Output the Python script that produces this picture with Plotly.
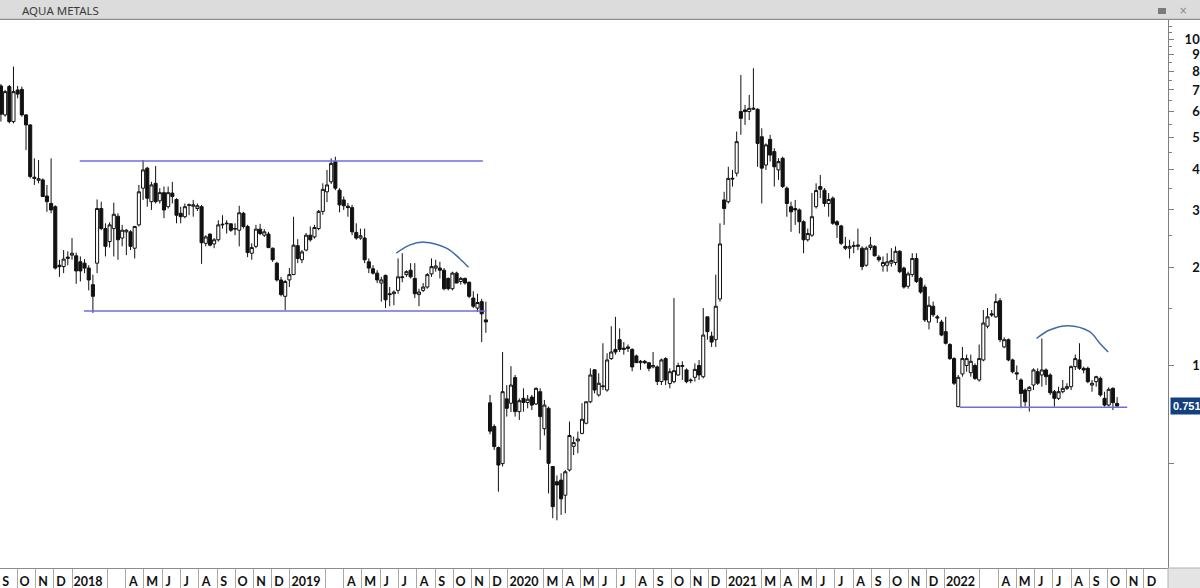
import math
import pandas as pd
import plotly.graph_objects as go

TITLE = "AQUA METALS"

# weekly bars
WEEKS = pd.date_range("2017-09-04", periods=268, freq="7D")

OPEN = [
    7.2, 5.87, 7.17, 5.60, 7.0, 7.03, 5.87, 5.47, 3.78, 3.70,
    3.71, 3.31, 3.14, 3.07, 2.03, 2.01, 2.13, 2.18, 2.17, 2.08,
    2.06, 1.99, 1.77, 2.06, 3.03, 2.63, 2.40, 2.63, 2.87, 2.46,
    2.57, 2.57, 2.29, 2.70, 3.50, 4.03, 3.18, 3.62, 3.20, 3.39,
    3.07, 3.38, 3.23, 2.93, 2.86, 3.10, 3.08, 3.03, 3.07, 2.37,
    2.53, 2.36, 2.43, 2.70, 2.72, 2.72, 2.62, 2.60, 2.93, 2.67,
    2.21, 2.32, 2.62, 2.51, 2.53, 2.29, 2.06, 1.83, 1.63, 1.83,
    1.90, 2.33, 2.11, 2.26, 2.51, 2.48, 2.63, 2.97, 3.41, 3.66,
    4.22, 3.45, 3.22, 3.08, 3.05, 2.56, 2.46, 2.46, 2.08, 1.98,
    1.92, 1.79, 1.89, 1.66, 1.66, 1.70, 1.86, 1.90, 1.96, 1.85,
    1.65, 1.70, 1.74, 1.91, 1.99, 1.99, 1.96, 1.85, 1.72, 1.92,
    1.81, 1.85, 1.80, 1.61, 1.50, 1.57, 1.38, 0.768, 0.65, 0.56,
    0.50, 0.79, 0.766, 0.918, 0.722, 0.793, 0.77, 0.80, 0.762, 0.831,
    0.64, 0.739, 0.49, 0.44, 0.445, 0.40, 0.478, 0.565, 0.587, 0.619,
    0.665, 0.774, 0.97, 0.812, 0.861, 0.841, 1.05, 1.12, 1.20, 1.12,
    1.14, 1.12, 1.07, 1.02, 1.03, 1.02, 0.99, 0.99, 0.893, 1.05,
    0.88, 0.892, 0.935, 1.00, 0.969, 0.903, 0.92, 1.00, 0.924, 1.41,
    1.23, 1.20, 1.60, 3.22, 3.18, 3.73, 3.89, 6.01, 6.08, 6.01,
    6.11, 6.11, 5.03, 4.12, 4.94, 4.53, 3.98, 4.32, 3.50, 3.07,
    3.03, 3.00, 2.76, 2.43, 2.51, 3.07, 3.54, 3.45, 3.14, 3.26,
    2.76, 2.68, 2.32, 2.29, 2.32, 2.32, 2.29, 2.03, 2.30, 2.32,
    2.15, 2.02, 2.03, 2.06, 2.07, 2.24, 1.99, 1.75, 1.90, 2.13,
    1.85, 1.74, 1.36, 1.52, 1.41, 1.36, 1.27, 1.16, 1.05, 0.748,
    0.942, 1.00, 0.95, 1.00, 0.903, 1.04, 1.32, 1.44, 1.41, 1.58,
    1.14, 1.20, 1.04, 0.95, 0.903, 0.841, 0.837, 0.871, 0.957, 0.935,
    0.969, 0.935, 0.831, 0.793, 0.831, 0.851, 0.861, 0.992, 1.04, 0.98,
    0.98, 0.871, 0.892, 0.913, 0.793, 0.756, 0.851, 0.765,
]
HIGH = [
    7.3, 7.0, 7.25, 8.26, 7.2, 7.17, 5.9, 5.5, 4.32, 4.27,
    3.75, 3.58, 4.32, 3.1, 2.11, 2.26, 2.24, 2.46, 2.22, 2.16,
    2.12, 2.03, 1.90, 3.23, 3.18, 2.73, 2.75, 3.16, 2.93, 2.70,
    2.62, 2.60, 2.68, 3.58, 4.27, 4.07, 3.66, 4.09, 3.50, 3.54,
    3.54, 3.66, 3.26, 3.07, 3.14, 3.14, 3.22, 3.14, 3.11, 2.51,
    2.54, 2.46, 2.79, 2.89, 2.79, 2.73, 2.73, 3.09, 2.96, 2.70,
    2.37, 2.70, 2.72, 2.62, 2.57, 2.30, 2.08, 1.87, 1.83, 1.99,
    2.86, 2.44, 2.26, 2.55, 2.67, 2.70, 3.0, 3.62, 3.98, 4.32,
    4.37, 3.50, 3.3, 3.15, 3.11, 2.73, 2.63, 2.63, 2.13, 2.03,
    1.96, 1.87, 1.90, 1.74, 1.70, 2.13, 2.21, 1.96, 2.06, 2.06,
    1.72, 1.79, 1.92, 2.13, 2.11, 2.08, 1.99, 1.86, 1.94, 1.94,
    1.87, 1.86, 1.81, 1.69, 1.66, 1.60, 1.57, 0.812, 0.66, 0.564,
    1.10, 0.87, 0.995, 0.935, 0.793, 0.851, 0.812, 0.812, 0.856, 0.851,
    0.784, 0.748, 0.49, 0.46, 0.467, 0.478, 0.673, 0.605, 0.627, 0.766,
    0.774, 0.98, 0.975, 0.946, 1.17, 1.09, 1.32, 1.41, 1.30, 1.18,
    1.16, 1.13, 1.08, 1.04, 1.04, 1.02, 1.10, 1.00, 1.05, 1.06,
    0.98, 1.61, 1.02, 1.03, 0.98, 0.913, 1.015, 1.04, 1.50, 1.41,
    1.27, 1.90, 2.73, 3.41, 4.07, 3.98, 5.22, 7.78, 6.30, 6.76,
    8.16, 6.15, 5.34, 4.80, 5.10, 4.64, 4.32, 4.37, 3.54, 3.18,
    3.22, 3.03, 2.79, 2.63, 3.38, 3.62, 3.84, 3.50, 3.38, 3.30,
    2.79, 2.70, 2.48, 2.43, 2.40, 2.63, 2.32, 2.32, 2.48, 2.34,
    2.18, 2.16, 2.21, 2.29, 2.32, 2.26, 2.01, 1.94, 2.21, 2.21,
    1.87, 1.77, 1.63, 1.57, 1.43, 1.38, 1.41, 1.17, 1.06, 0.935,
    1.14, 1.08, 1.08, 1.015, 1.16, 1.48, 1.50, 1.48, 1.66, 1.61,
    1.22, 1.21, 1.05, 1.00, 0.913, 0.851, 0.865, 0.98, 0.98, 1.21,
    0.98, 0.946, 0.841, 0.861, 0.903, 0.882, 1.00, 1.08, 1.17, 0.992,
    0.992, 0.903, 0.93, 0.924, 0.831, 0.857, 0.857, 0.80,
]
LOW = [
    5.6, 5.8, 5.53, 5.53, 6.6, 5.8, 4.58, 3.75, 3.58, 3.62,
    3.3, 2.96, 2.93, 1.97, 1.87, 1.92, 2.03, 2.11, 1.78, 1.81,
    1.92, 1.70, 1.45, 1.92, 2.6, 2.16, 2.3, 2.16, 2.11, 2.32,
    2.18, 2.26, 2.13, 2.67, 3.22, 3.07, 3.0, 3.14, 3.14, 2.83,
    3.03, 3.14, 2.73, 2.73, 2.83, 2.89, 2.86, 2.98, 2.05, 2.32,
    2.32, 2.29, 2.40, 2.63, 2.54, 2.57, 2.51, 2.32, 2.63, 2.15,
    2.11, 2.29, 2.51, 2.48, 2.29, 2.08, 1.81, 1.63, 1.48, 1.74,
    1.90, 2.06, 2.06, 2.24, 2.40, 2.45, 2.60, 2.90, 3.17, 3.6,
    3.45, 2.95, 3.0, 2.86, 2.51, 2.43, 2.43, 2.06, 1.92, 1.90,
    1.79, 1.57, 1.50, 1.52, 1.53, 1.66, 1.80, 1.87, 1.85, 1.61,
    1.52, 1.68, 1.72, 1.87, 1.94, 1.85, 1.70, 1.70, 1.70, 1.79,
    1.77, 1.77, 1.61, 1.50, 1.46, 1.18, 1.26, 0.615, 0.551, 0.41,
    0.49, 0.697, 0.72, 0.697, 0.68, 0.722, 0.739, 0.73, 0.756, 0.551,
    0.61, 0.405, 0.34, 0.335, 0.348, 0.352, 0.473, 0.531, 0.538, 0.615,
    0.66, 0.766, 0.821, 0.802, 0.841, 0.831, 1.04, 1.08, 1.10, 1.08,
    1.10, 0.96, 1.02, 0.97, 1.01, 0.96, 0.98, 0.871, 0.871, 0.871,
    0.851, 0.882, 0.93, 0.903, 0.882, 0.882, 0.892, 0.903, 0.913, 1.20,
    1.14, 1.14, 1.57, 2.70, 3.14, 3.54, 3.80, 5.10, 5.47, 5.66,
    6.08, 4.07, 3.14, 3.98, 4.22, 3.54, 3.71, 3.50, 2.86, 2.57,
    2.70, 2.54, 2.21, 2.40, 2.48, 3.03, 3.26, 3.07, 2.86, 2.70,
    2.46, 2.34, 2.26, 2.13, 2.21, 2.26, 1.96, 2.01, 2.26, 2.16,
    2.08, 1.94, 1.94, 2.01, 2.03, 1.92, 1.72, 1.72, 1.87, 1.79,
    1.66, 1.36, 1.29, 1.41, 1.35, 1.23, 1.16, 1.04, 0.871, 0.744,
    0.924, 0.957, 0.924, 0.903, 0.892, 1.03, 1.30, 1.41, 1.40, 1.18,
    1.13, 1.03, 0.946, 0.903, 0.739, 0.748, 0.722, 0.841, 0.871, 0.861,
    0.871, 0.812, 0.748, 0.784, 0.821, 0.841, 0.841, 0.969, 0.969, 0.946,
    0.882, 0.831, 0.861, 0.802, 0.748, 0.748, 0.730, 0.748,
]
CLOSE = [
    5.9, 6.92, 5.60, 6.92, 6.8, 5.87, 5.47, 3.80, 3.75, 3.74,
    3.30, 3.18, 3.00, 1.99, 2.01, 2.12, 2.15, 2.21, 1.95, 1.95,
    1.99, 1.83, 1.63, 3.03, 2.63, 2.32, 2.70, 2.91, 2.43, 2.60,
    2.60, 2.32, 2.67, 3.41, 3.98, 3.26, 3.58, 3.18, 3.39, 3.00,
    3.39, 3.30, 2.89, 2.86, 3.07, 3.11, 3.11, 3.09, 2.38, 2.48,
    2.34, 2.43, 2.70, 2.71, 2.73, 2.60, 2.63, 2.94, 2.67, 2.22,
    2.30, 2.62, 2.54, 2.57, 2.30, 2.11, 1.83, 1.65, 1.81, 1.90,
    2.34, 2.13, 2.23, 2.51, 2.43, 2.65, 2.97, 3.47, 3.58, 4.17,
    3.50, 3.11, 3.09, 3.05, 2.57, 2.46, 2.50, 2.11, 1.99, 1.92,
    1.83, 1.83, 1.59, 1.65, 1.68, 1.87, 1.87, 1.94, 1.87, 1.66,
    1.68, 1.74, 1.90, 2.01, 2.02, 1.96, 1.72, 1.72, 1.92, 1.79,
    1.85, 1.79, 1.63, 1.52, 1.56, 1.44, 1.36, 0.629, 0.564, 0.495,
    0.831, 0.739, 0.871, 0.722, 0.78, 0.77, 0.788, 0.756, 0.851, 0.697,
    0.756, 0.501, 0.369, 0.43, 0.39, 0.472, 0.61, 0.58, 0.595, 0.684,
    0.774, 0.935, 0.841, 0.882, 0.865, 1.04, 1.10, 1.10, 1.12, 1.13,
    1.13, 0.99, 1.02, 1.03, 1.02, 0.98, 1.00, 0.893, 1.04, 0.903,
    0.957, 0.964, 1.00, 0.995, 0.892, 0.899, 0.973, 0.935, 1.24, 1.27,
    1.18, 1.52, 2.36, 3.03, 3.75, 3.75, 4.86, 5.73, 6.01, 6.15,
    6.15, 4.80, 4.03, 4.75, 4.42, 4.07, 4.22, 3.54, 3.14, 2.96,
    3.00, 2.76, 2.43, 2.54, 2.86, 3.44, 3.47, 3.14, 3.23, 2.73,
    2.70, 2.37, 2.29, 2.32, 2.33, 2.34, 2.01, 2.29, 2.34, 2.17,
    2.11, 2.07, 2.08, 2.10, 2.24, 1.94, 1.74, 1.91, 2.13, 1.81,
    1.68, 1.38, 1.53, 1.43, 1.40, 1.24, 1.17, 1.05, 0.882, 0.92,
    1.05, 1.05, 1.03, 0.913, 1.05, 1.35, 1.41, 1.43, 1.57, 1.20,
    1.20, 1.04, 0.957, 0.942, 0.821, 0.774, 0.857, 0.969, 0.882, 0.969,
    0.924, 0.825, 0.793, 0.831, 0.851, 0.861, 0.992, 1.05, 0.98, 0.969,
    0.892, 0.882, 0.924, 0.812, 0.756, 0.845, 0.769, 0.751,
]

LAST_PRICE = 0.751

# drawn support / resistance levels
LEVEL_START = ["2018-01-14", "2018-01-21", "2022-01-27"]
LEVEL_END = ["2019-11-20", "2019-11-26", "2022-11-03"]
LEVEL_PRICE = [4.24, 1.47, 0.744]

# drawn rounding-top arcs
ARC1_DATES = ["2019-06-28", "2019-07-20", "2019-08-14", "2019-09-20", "2019-10-12", "2019-10-27"]
ARC1_PRICES = [2.21, 2.34, 2.39, 2.29, 2.13, 2.00]
ARC2_DATES = ["2022-06-04", "2022-06-26", "2022-07-27", "2022-09-01", "2022-09-18", "2022-10-02"]
ARC2_PRICES = [1.21, 1.285, 1.325, 1.27, 1.17, 1.10]

# bottom time axis labels
MONTH_DATES = [
    "2017-09-01", "2017-10-01", "2017-11-01", "2017-12-01", "2018-01-01",
    "2018-04-01", "2018-05-01", "2018-06-01", "2018-07-01", "2018-08-01", "2018-09-01",
    "2018-10-01", "2018-11-01", "2018-12-01", "2019-01-01",
    "2019-04-01", "2019-05-01", "2019-06-01", "2019-07-01", "2019-08-01", "2019-09-01",
    "2019-10-01", "2019-11-01", "2019-12-01", "2020-01-01",
    "2020-03-01", "2020-04-01", "2020-05-01", "2020-06-01", "2020-07-01", "2020-08-01",
    "2020-09-01", "2020-10-01", "2020-11-01", "2020-12-01", "2021-01-01",
    "2021-03-01", "2021-04-01", "2021-05-01", "2021-06-01", "2021-07-01", "2021-08-01",
    "2021-09-01", "2021-10-01", "2021-11-01", "2021-12-01", "2022-01-01",
    "2022-04-01", "2022-05-01", "2022-06-01", "2022-07-01", "2022-08-01", "2022-09-01",
    "2022-10-01", "2022-11-01", "2022-12-01",
]
MONTH_TEXT = [
    "S", "O", "N", "D", "2018",
    "A", "M", "J", "J", "A", "S", "O", "N", "D", "2019",
    "A", "M", "J", "J", "A", "S", "O", "N", "D", "2020",
    "M", "A", "M", "J", "J", "A", "S", "O", "N", "D", "2021",
    "M", "A", "M", "J", "J", "A", "S", "O", "N", "D", "2022",
    "A", "M", "J", "J", "A", "S", "O", "N", "D",
]

Y_TICKS = [0.5, 1, 2, 3, 4, 5, 6, 7, 8, 9, 10]
Y_TICK_TEXT = ["", "1", "2", "3", "4", "5", "6", "7", "8", "9", "10"]
Y_MINOR = [1.5, 2.5, 3.5, 4.5, 5.5, 6.5, 7.5, 8.5, 9.5, 10.5, 11]

# ---------------- layout geometry ----------------
W, H = 1200, 588
ML, MR, MT, MB = 0, 32, 20, 20
PW, PH = W - ML - MR, H - MT - MB
PX_PER_DAY = 0.5972
ANCHOR = pd.Timestamp("2018-01-01")
ANCHOR_PX = 72
x0 = ANCHOR - pd.Timedelta(days=ANCHOR_PX / PX_PER_DAY)
x1 = x0 + pd.Timedelta(days=PW / PX_PER_DAY)
Y_RANGE = [-0.6212, 1.0598]


def label_width(t):
    if len(t) == 4:
        return 26
    return {"M": 11, "J": 6, "S": 7}.get(t, 9)


label_centres = [
    pd.Timestamp(d) + pd.Timedelta(days=(3 + label_width(t) / 2) / PX_PER_DAY)
    for d, t in zip(MONTH_DATES, MONTH_TEXT)
]
separators = [d for d in pd.date_range("2017-10-01", "2022-12-01", freq="MS") if d.month != 2]

fig = go.Figure()

fig.add_trace(go.Candlestick(
    x=WEEKS, open=OPEN, high=HIGH, low=LOW, close=CLOSE,
    increasing=dict(line=dict(color="#111111", width=1), fillcolor="#ffffff"),
    decreasing=dict(line=dict(color="#111111", width=1), fillcolor="#111111"),
    whiskerwidth=0, hoverinfo="skip", showlegend=False,
))

for s, e, p in zip(LEVEL_START, LEVEL_END, LEVEL_PRICE):
    fig.add_trace(go.Scatter(x=[s, e], y=[p, p], mode="lines",
                             line=dict(color="#6c6ce0", width=1.5),
                             hoverinfo="skip", showlegend=False))

for xs, ys in ((ARC1_DATES, ARC1_PRICES), (ARC2_DATES, ARC2_PRICES)):
    fig.add_trace(go.Scatter(x=xs, y=ys, mode="lines",
                             line=dict(color="#3f6aa8", width=1.5, shape="spline", smoothing=1.0),
                             hoverinfo="skip", showlegend=False))

shapes = [
    # title bar
    dict(type="rect", xref="paper", yref="paper", x0=-0.01, x1=W / PW + 0.01,
         y0=1, y1=1 + MT / PH + 0.01, fillcolor="#dcdcdc", line=dict(width=0), layer="above"),
    dict(type="line", xref="paper", yref="paper", x0=-0.01, x1=W / PW + 0.01,
         y0=1 + 0.6 / PH, y1=1 + 0.6 / PH, line=dict(color="#8e8e8e", width=1.2), layer="above"),
    # window icon
    dict(type="rect", xref="paper", yref="paper", x0=1158 / PW, x1=1166 / PW,
         y0=1 + 6 / PH, y1=1 + 12 / PH, fillcolor="#7a7a7a", line=dict(width=0), layer="above"),
    # bottom-right corner box
    dict(type="rect", xref="paper", yref="paper", x0=1.0, x1=W / PW + 0.01,
         y0=-MB / PH - 0.01, y1=0, fillcolor="#e4e4e4", line=dict(color="#b0b0b0", width=1), layer="above"),
]

annotations = [
    dict(text=TITLE, xref="paper", yref="paper", x=20 / PW, y=1 + 10 / PH,
         xanchor="left", yanchor="middle", showarrow=False,
         font=dict(family="Noto Sans", size=11.5, color="#3a3a3a")),
    dict(text="×", xref="paper", yref="paper", x=1183 / PW, y=1 + 9 / PH,
         xanchor="center", yanchor="middle", showarrow=False,
         font=dict(family="DejaVu Sans", size=10, color="#8a8a8a")),
    dict(text="<b>%.3f</b>" % LAST_PRICE, xref="paper", yref="y", x=1170 / PW,
         y=math.log10(LAST_PRICE), xanchor="left", yanchor="middle", showarrow=False,
         bgcolor="#14407e", borderpad=2,
         font=dict(family="Liberation Sans", size=11, color="#ffffff")),
]

fig.update_layout(
    width=W, height=H,
    margin=dict(l=ML, r=MR, t=MT, b=MB, pad=0),
    paper_bgcolor="#ffffff", plot_bgcolor="#ffffff",
    showlegend=False,
    boxgap=0.08, boxgroupgap=0.2,
    shapes=shapes, annotations=annotations,
    xaxis=dict(
        type="date", range=[x0, x1], rangeslider=dict(visible=False),
        showgrid=False, zeroline=False,
        showline=True, linecolor="#8c8c8c", linewidth=1,
        tickmode="array", tickvals=label_centres, ticktext=MONTH_TEXT,
        ticks="", tickangle=0, ticklabelstandoff=2,
        tickfont=dict(family="Lato", size=12.5, color="#111111", weight="bold"),
        minor=dict(tickmode="array", tickvals=separators, ticks="outside",
                   ticklen=MB, tickcolor="#a8a8a8", tickwidth=1, showgrid=False),
        fixedrange=True,
    ),
    yaxis=dict(
        type="log", side="right", range=Y_RANGE,
        showgrid=False, zeroline=False,
        showline=True, linecolor="#7f7f7f", linewidth=1,
        tickmode="array", tickvals=Y_TICKS, ticktext=[("\u2007" + t if len(t) == 1 else t) for t in Y_TICK_TEXT],
        ticks="outside", ticklen=5, tickcolor="#7f7f7f", ticklabelstandoff=8,
        tickfont=dict(family="Lato", size=13, color="#111111", weight="bold"),
        minor=dict(tickmode="array", tickvals=Y_MINOR, ticks="outside", ticklen=3,
                   tickcolor="#7f7f7f", showgrid=False),
        fixedrange=True,
    ),
)

fig.write_html("out.html", config={"displayModeBar": False},
               post_script="document.body.style.margin='0px';document.body.style.overflow='hidden';")
